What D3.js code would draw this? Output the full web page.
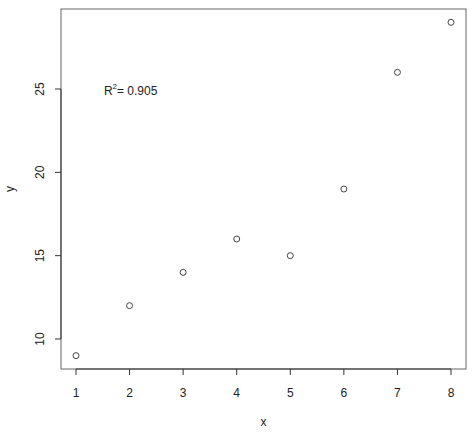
<!DOCTYPE html>
<html>
<head>
<meta charset="utf-8">
<script src="https://cdn.jsdelivr.net/npm/d3@7"></script>
<style>
  body { margin: 0; background: #fff; }
  text { font-family: "Liberation Sans", Arial, sans-serif; fill: #222; }
</style>
</head>
<body>
<div id="chart"></div>
<script>
// data
let xs = [1, 2, 3, 4, 5, 6, 7, 8];
let ys = [9, 12, 14, 16, 15, 19, 26, 29];
let xTicks = [1, 2, 3, 4, 5, 6, 7, 8];
let yTicks = [10, 15, 20, 25];
let r2Label = "0.905";

let width = 474, height = 432;
let box = { left: 61, right: 466, top: 9, bottom: 369 };

let svg = d3.select("#chart").append("svg")
  .attr("width", width).attr("height", height);

// R style domains: data range padded by 4%
let xScale = d3.scaleLinear().domain([0.72, 8.28]).range([box.left, box.right]);
let yScale = d3.scaleLinear().domain([8.2, 29.8]).range([box.bottom, box.top]);

// plot frame
svg.append("rect")
  .attr("x", box.left).attr("y", box.top)
  .attr("width", box.right - box.left).attr("height", box.bottom - box.top)
  .attr("fill", "none").attr("stroke", "#666").attr("stroke-width", 1);

// bottom axis
let xAxis = svg.append("g").attr("transform", `translate(0,${box.bottom})`);
xAxis.append("line")
  .attr("x1", xScale(xTicks[0])).attr("x2", xScale(xTicks[xTicks.length - 1]))
  .attr("stroke", "#333");
xAxis.selectAll(".tick").data(xTicks).enter().append("g")
  .attr("transform", d => `translate(${xScale(d)},0)`)
  .each(function(d) {
    let g = d3.select(this);
    g.append("line").attr("y2", 6).attr("stroke", "#333");
    g.append("text").attr("y", 28).attr("text-anchor", "middle")
      .style("font-size", "12px").text(d);
  });

// left axis
let yAxis = svg.append("g").attr("transform", `translate(${box.left},0)`);
yAxis.append("line")
  .attr("y1", yScale(yTicks[0])).attr("y2", yScale(yTicks[yTicks.length - 1]))
  .attr("stroke", "#333");
yAxis.selectAll(".tick").data(yTicks).enter().append("g")
  .attr("transform", d => `translate(0,${yScale(d)})`)
  .each(function(d) {
    let g = d3.select(this);
    g.append("line").attr("x2", -6).attr("stroke", "#333");
    g.append("text").attr("transform", "translate(-17,0) rotate(-90)")
      .attr("text-anchor", "middle")
      .style("font-size", "12px").text(d);
  });

// axis titles
svg.append("text").attr("x", (box.left + box.right) / 2).attr("y", 426)
  .attr("text-anchor", "middle").style("font-size", "12px").text("x");
svg.append("text").attr("transform", `translate(14,${(box.top + box.bottom) / 2}) rotate(-90)`)
  .attr("text-anchor", "middle").style("font-size", "12px").text("y");

// points
svg.append("g").selectAll("circle")
  .data(xs.map((x, i) => ({ x: x, y: ys[i] })))
  .enter().append("circle")
  .attr("cx", d => xScale(d.x)).attr("cy", d => yScale(d.y))
  .attr("r", 3)
  .attr("fill", "none").attr("stroke", "#444").attr("stroke-width", 1);

// R squared annotation
let note = svg.append("text")
  .attr("x", xScale(2.02)).attr("y", yScale(24.65))
  .attr("text-anchor", "middle").style("font-size", "12px");
note.append("tspan").text("R");
note.append("tspan").attr("dy", -6).style("font-size", "8px").text("2");
note.append("tspan").attr("dy", 6).text("= " + r2Label);
</script>
</body>
</html>
